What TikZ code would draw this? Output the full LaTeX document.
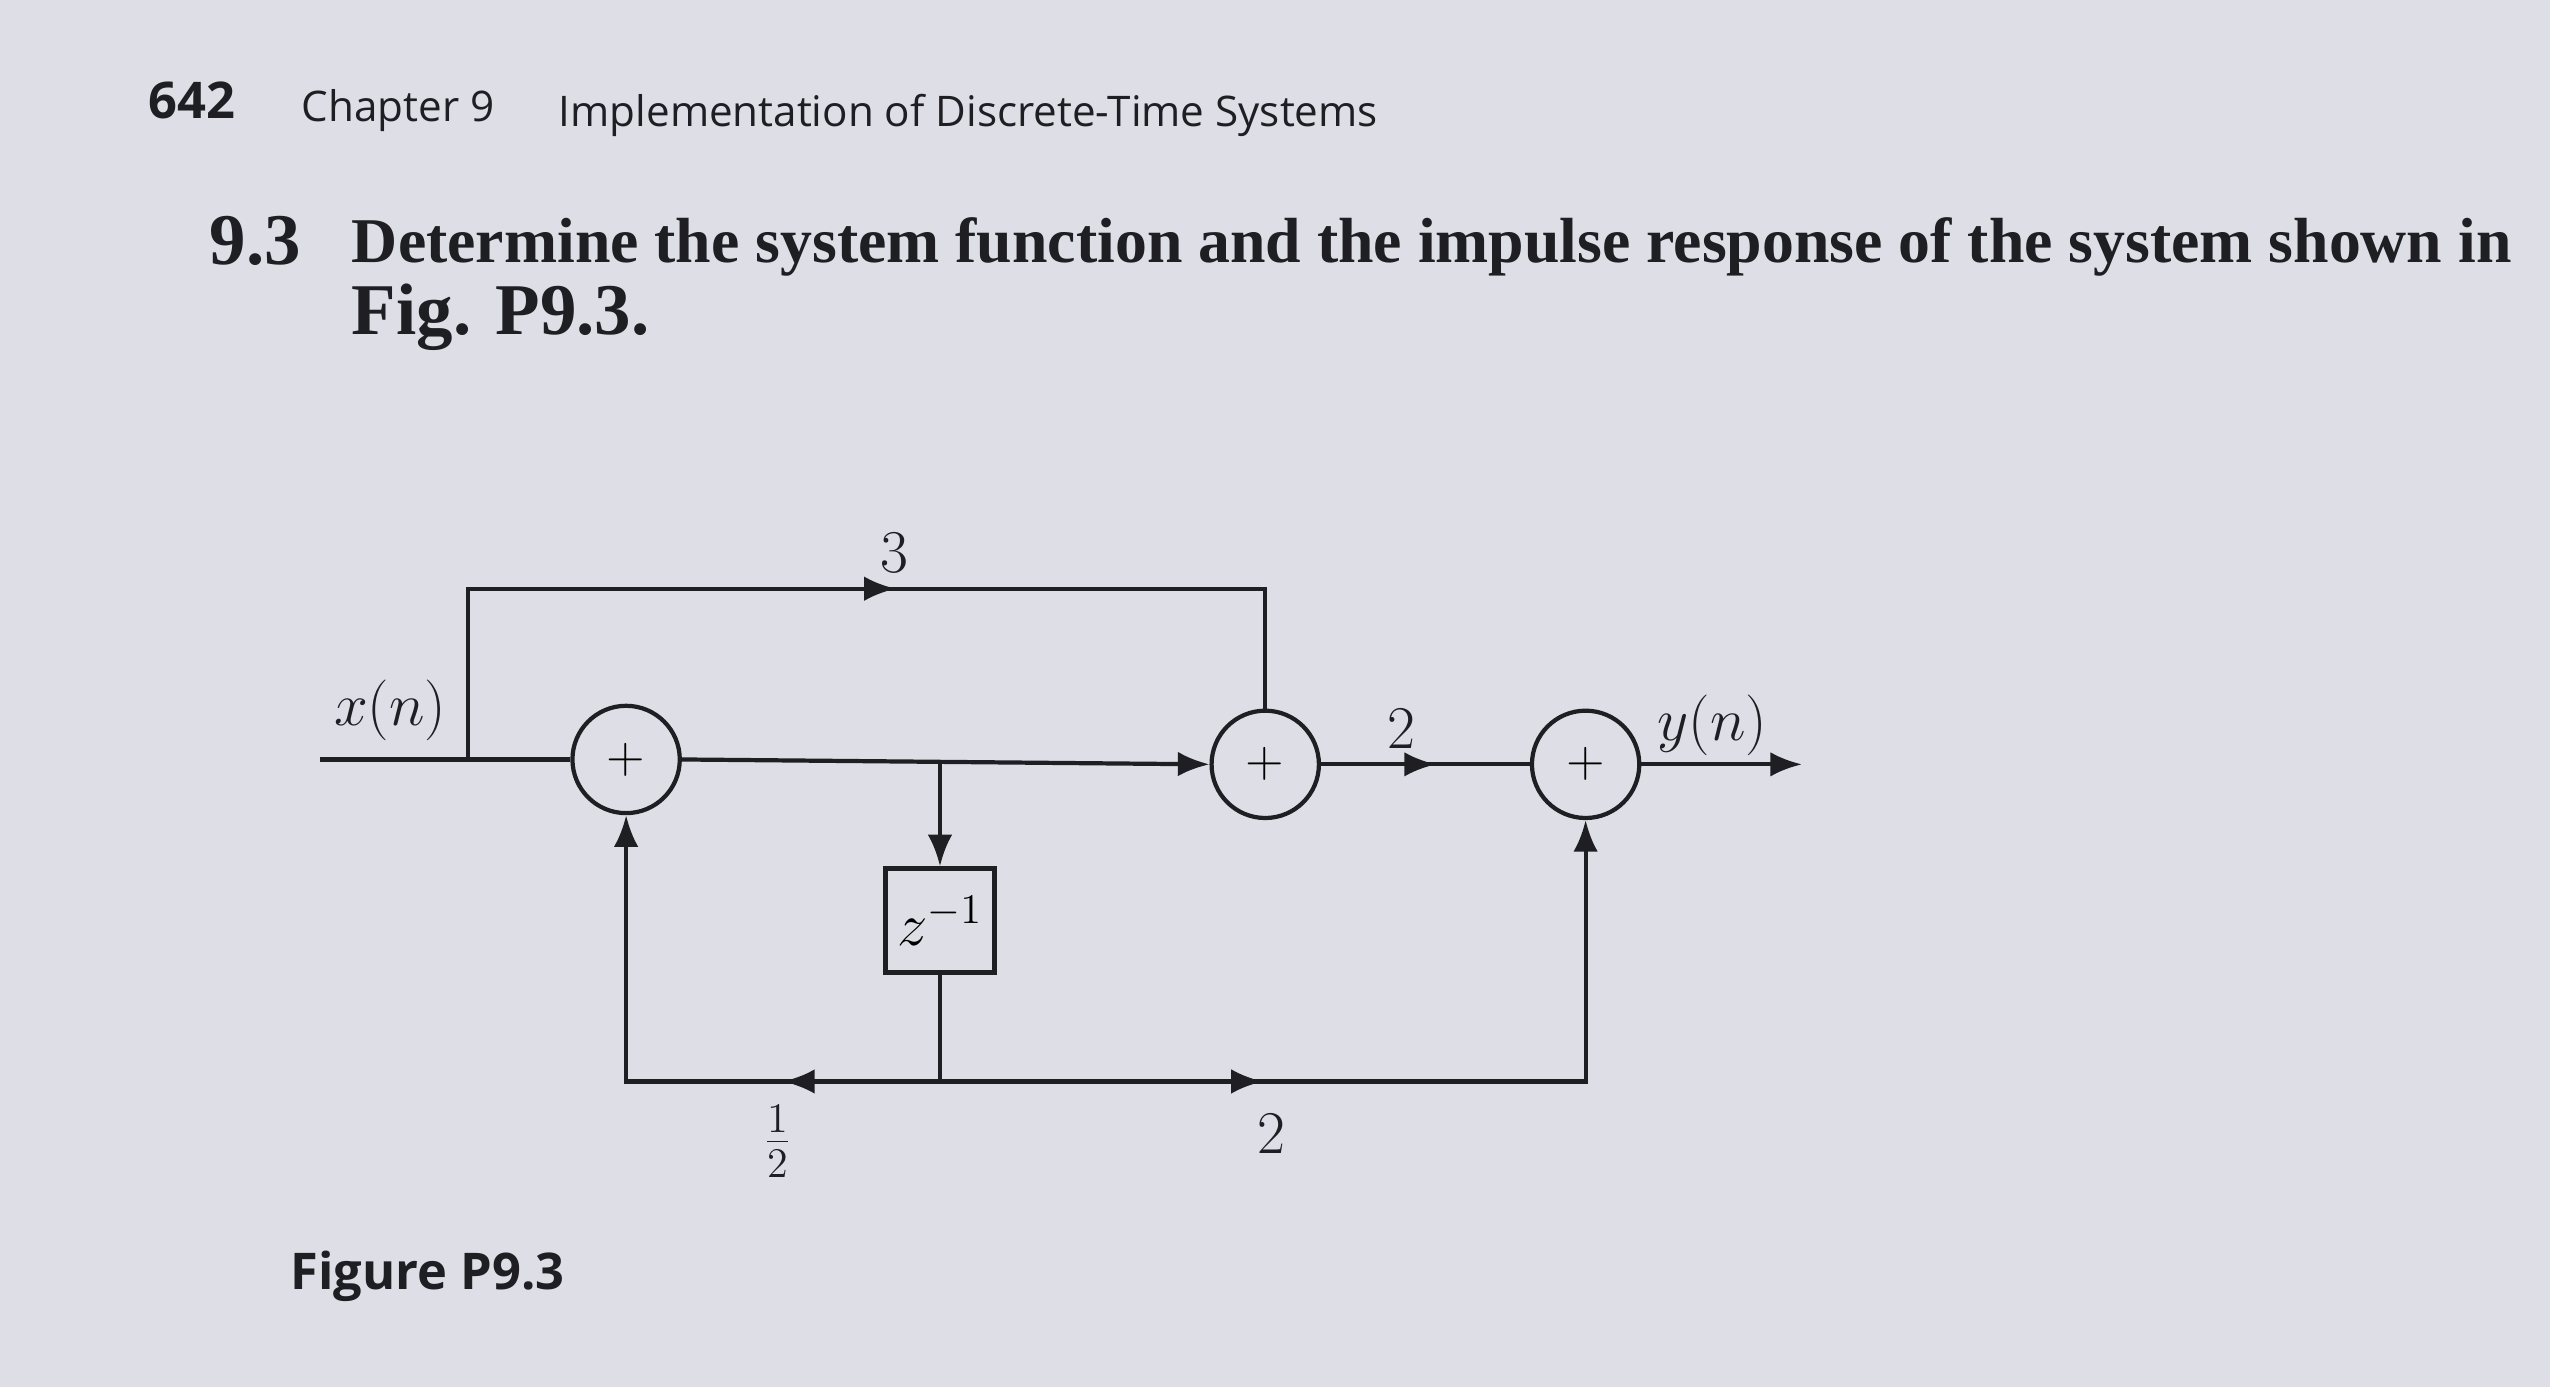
\documentclass[tikz,border=0pt]{standalone}
\usepackage{fontspec}
\newfontfamily\sans{Open Sans}
\newfontfamily\serifq{Liberation Serif}
\usetikzlibrary{arrows.meta,decorations.markings}
\definecolor{paper}{RGB}{222,222,230}
\definecolor{ink}{RGB}{30,30,35}
\begin{document}
\begin{tikzpicture}[x=0.01626cm,y=-0.01626cm,
  sumnode/.style={draw=ink,circle,line width=1.2pt,minimum size=66*0.01626cm,inner sep=0pt,font=\Large},
  wire/.style={draw=ink,line width=1.2pt},
  arr/.style={wire,-{Latex[length=9pt,width=7pt]}},
  midarr/.style={wire,decoration={markings,mark=at position #1 with {\arrow{Latex[length=9pt,width=7pt]}}},postaction={decorate}},
  lbl/.style={font=\LARGE,text=ink}]
\fill[paper] (0,0) rectangle (1568,853);
\useasboundingbox (0,0) rectangle (1568,853);
\node[font=\sans\bfseries\Large,text=ink] (pg) at (118,62) {642};
\node[font=\sans\large,text=ink,anchor=west] (ch) at (178,68) {Chapter 9};
\node[font=\sans\large,text=ink,anchor=west] (ti) at (336,71) {Implementation of Discrete-Time Systems};
\node[font=\serifq\bfseries\huge,text=ink] (pn) at (157,148) {9.3};
\node[text=ink,anchor=west,inner sep=0pt] (q1) at (216,152) {\resizebox{21.6cm}{!}{\serifq\bfseries Determine the system function and the impulse response of the system shown in}};
\node[font=\serifq\bfseries\huge,text=ink,anchor=west,inner sep=0pt] (q2) at (216,195) {Fig. P9.3.};
\node[sumnode] (a1) at (385,467) {+};
\node[sumnode] (a2) at (778,470) {+};
\node[sumnode] (a3) at (975,470) {+};
\node[draw=ink,line width=1.2pt,minimum width=66*0.01626cm,minimum height=64*0.01626cm,font=\LARGE] (z) at (578,566) {$z^{-1}$};
\coordinate (in) at (197,467);
\coordinate (out) at (1108,470);
\coordinate (b1) at (288,467);
\coordinate (t1) at (288,362);
\coordinate (t2) at (778,362);
\coordinate (d1) at (578,468);
\coordinate (bl) at (385,665);
\coordinate (bm) at (578,665);
\coordinate (br) at (975,665);
\draw[wire] (in) -- (a1.west);
\draw[midarr=0.55] (b1) -- (t1) -- (t2) -- (a2.north);
\draw[arr] (a1.east) -- (a2.west);
\draw[arr] (d1) -- (z.north);
\draw[wire] (z.south) -- (bm);
\draw[arr] (bm) -- (bl) -- (a1.south);
\path[midarr=0.5] (bm) -- (bl);
\draw[arr] (bm) -- (br) -- (a3.south);
\path[midarr=0.5] (bm) -- (br);
\draw[midarr=0.55] (a2.east) -- (a3.west);
\draw[arr] (a3.east) -- (out);
\node[lbl] (l3) at (550,340) {3};
\node[lbl] (lx) at (240,437) {$x(n)$};
\node[lbl] (ly) at (1053,446) {$y(n)$};
\node[lbl] (l2a) at (862,448) {2};
\node[lbl] (l2b) at (782,697) {2};
\node[lbl] (lh) at (478,702) {$\frac{1}{2}$};
\node[font=\sans\bfseries\Large,text=ink] (cap) at (263,785) {Figure P9.3};
\end{tikzpicture}
\end{document}
